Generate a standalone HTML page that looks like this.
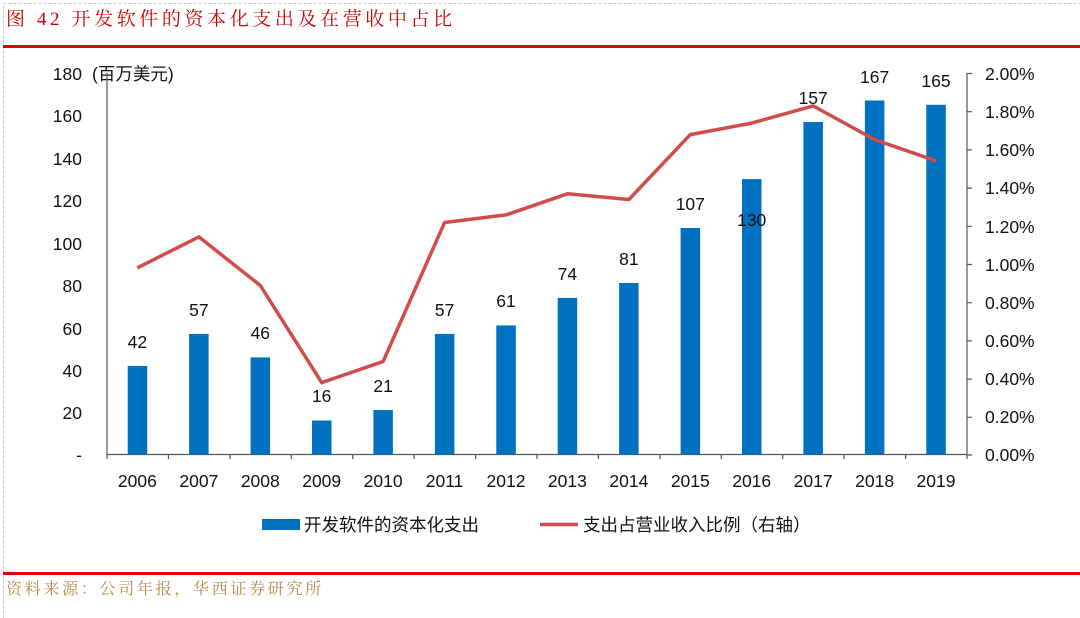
<!DOCTYPE html>
<html><head><meta charset="utf-8"><style>
body{margin:0;background:#fff;}
svg{display:block}
</style></head><body>
<svg width="1080" height="618" xmlns="http://www.w3.org/2000/svg" font-family="'Liberation Sans','Noto Sans CJK SC',sans-serif">
<rect x="3.5" y="3.5" width="1090" height="620" fill="none" stroke="#c8c8c8" stroke-dasharray="3,2"/>
<text x="6" y="25" font-family="'Liberation Serif','Noto Serif CJK SC',serif" font-size="19" letter-spacing="3.6" fill="#d00000">图 42 开发软件的资本化支出及在营收中占比</text>
<rect x="3" y="45" width="1077" height="3" fill="#e00000"/>
<rect x="3" y="572" width="1077" height="3" fill="#e00000"/>
<text x="6" y="594" font-family="'Noto Serif CJK SC',serif" font-size="16" letter-spacing="2.7" fill="#b8864a">资料来源：公司年报，华西证券研究所</text>
<g font-size="17.5" fill="#111">
<text x="82" y="80" text-anchor="end">180</text>
<text x="82" y="122" text-anchor="end">160</text>
<text x="82" y="165" text-anchor="end">140</text>
<text x="82" y="207" text-anchor="end">120</text>
<text x="82" y="250" text-anchor="end">100</text>
<text x="82" y="292" text-anchor="end">80</text>
<text x="82" y="335" text-anchor="end">60</text>
<text x="82" y="377" text-anchor="end">40</text>
<text x="82" y="419" text-anchor="end">20</text>
<text x="82" y="461" text-anchor="end">-</text>
<text x="92" y="80">(百万美元)</text>
<text x="985" y="80">2.00%</text>
<text x="985" y="118">1.80%</text>
<text x="985" y="156">1.60%</text>
<text x="985" y="194">1.40%</text>
<text x="985" y="233">1.20%</text>
<text x="985" y="271">1.00%</text>
<text x="985" y="309">0.80%</text>
<text x="985" y="347">0.60%</text>
<text x="985" y="385">0.40%</text>
<text x="985" y="423">0.20%</text>
<text x="985" y="461">0.00%</text>
</g>
<g stroke="#555" stroke-width="1.2" fill="none">
<line x1="107" y1="73" x2="107" y2="459"/>
<line x1="107" y1="454.5" x2="967" y2="454.5"/>
<path d="M967 73V455M967 73.5h5M967 111.7h5M967 149.9h5M967 188.1h5M967 226.3h5M967 264.5h5M967 302.7h5M967 340.9h5M967 379.1h5M967 417.3h5M967 455h5"/>
<path d="M168.4 454v5M229.9 454v5M291.3 454v5M352.7 454v5M414.1 454v5M475.6 454v5M537 454v5M598.4 454v5M659.9 454v5M721.3 454v5M782.7 454v5M844.1 454v5M905.6 454v5M967 454v5"/>
</g>
<g fill="#0070c0">
<rect x="127.7" y="365.9" width="19.5" height="88.6"/>
<rect x="189.1" y="333.9" width="19.5" height="120.6"/>
<rect x="250.6" y="357.4" width="19.5" height="97.1"/>
<rect x="312" y="420.5" width="19.5" height="34"/>
<rect x="373.4" y="410" width="19.5" height="44.5"/>
<rect x="434.9" y="333.9" width="19.5" height="120.6"/>
<rect x="496.3" y="325.4" width="19.5" height="129.1"/>
<rect x="557.7" y="297.9" width="19.5" height="156.6"/>
<rect x="619.1" y="283" width="19.5" height="171.5"/>
<rect x="680.6" y="228" width="19.5" height="226.5"/>
<rect x="742" y="179.1" width="19.5" height="275.4"/>
<rect x="803.4" y="122" width="19.5" height="332.5"/>
<rect x="864.9" y="100.5" width="19.5" height="354"/>
<rect x="926.3" y="104.8" width="19.5" height="349.7"/>
</g>
<polyline fill="none" stroke="#d24b4b" stroke-width="3.5" stroke-linejoin="round" points="137.4,267.8 198.9,236.9 260.3,285.5 321.7,382.6 383.1,361.5 444.6,222.5 506,214.9 567.4,193.8 628.9,199.5 690.3,134.6 751.7,123.1 813.1,105.9 874.6,139.6 936,160.9"/>
<g font-size="17.5" fill="#111" text-anchor="middle">
<text x="137.4" y="348">42</text>
<text x="198.9" y="316">57</text>
<text x="260.3" y="339">46</text>
<text x="321.7" y="402">16</text>
<text x="383.1" y="392">21</text>
<text x="444.6" y="316">57</text>
<text x="506" y="307">61</text>
<text x="567.4" y="280">74</text>
<text x="628.9" y="265">81</text>
<text x="690.3" y="210">107</text>
<text x="751.7" y="226">130</text>
<text x="813.1" y="104">157</text>
<text x="874.6" y="83">167</text>
<text x="936" y="87">165</text>
<text x="137.4" y="487">2006</text>
<text x="198.9" y="487">2007</text>
<text x="260.3" y="487">2008</text>
<text x="321.7" y="487">2009</text>
<text x="383.1" y="487">2010</text>
<text x="444.6" y="487">2011</text>
<text x="506" y="487">2012</text>
<text x="567.4" y="487">2013</text>
<text x="628.9" y="487">2014</text>
<text x="690.3" y="487">2015</text>
<text x="751.7" y="487">2016</text>
<text x="813.1" y="487">2017</text>
<text x="874.6" y="487">2018</text>
<text x="936" y="487">2019</text>
</g>
<rect x="262" y="519" width="38" height="11" fill="#0070c0"/>
<text x="304" y="531" font-size="17.5" fill="#111">开发软件的资本化支出</text>
<line x1="540" y1="524.5" x2="578" y2="524.5" stroke="#d24b4b" stroke-width="3.5"/>
<text x="583" y="531" font-size="17.5" fill="#111">支出占营业收入比例（右轴）</text>
</svg>
</body></html>
